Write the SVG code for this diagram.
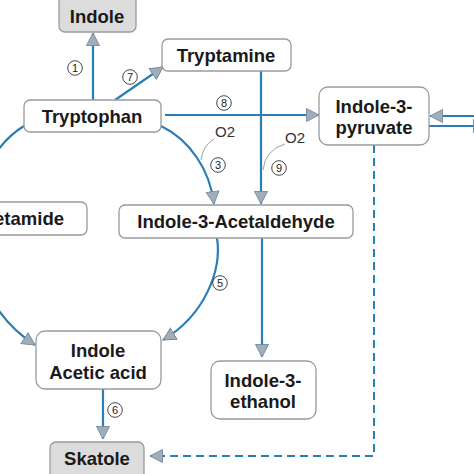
<svg xmlns="http://www.w3.org/2000/svg" width="474" height="474" viewBox="0 0 474 474">
<style>
.box{fill:#fff;stroke:#9a9a9a;stroke-width:1.3}
.gbox{fill:#dcdcdc;stroke:#9a9a9a;stroke-width:1.3}
.t{font-family:"Liberation Sans",Arial,sans-serif;font-weight:bold;font-size:18.5px;fill:#1a1a1a;text-anchor:middle}
.n{font-family:"Liberation Sans",Arial,sans-serif;font-size:11px;fill:#222;text-anchor:middle}
.nc{fill:none;stroke:#333;stroke-width:0.9}
.o{font-family:"Liberation Sans",Arial,sans-serif;font-size:15px;fill:#333;text-anchor:middle}
.c{fill:none;stroke:#2a7db5;stroke-width:2.2}
.d{fill:none;stroke:#2a7db5;stroke-width:2;stroke-dasharray:8 5}
.thin{fill:none;stroke:#9aa3ab;stroke-width:1}
</style>
<defs>
<marker id="ah" markerUnits="userSpaceOnUse" markerWidth="16" markerHeight="16" refX="13" refY="7" orient="auto" viewBox="0 0 16 16">
<path d="M0.5,0.5 L13,7 L0.5,13.5 Z" fill="#a3adb8" stroke="#6f8ba2" stroke-width="0.9"/>
</marker>
<circle id="nc" class="nc" r="7.3"/>
</defs>
<g id="connectors">
<line class="c" x1="93" y1="100" x2="93" y2="33" marker-end="url(#ah)"/>
<line class="c" x1="115" y1="100" x2="163" y2="67" marker-end="url(#ah)"/>
<line class="c" x1="165" y1="115" x2="319" y2="115" marker-end="url(#ah)"/>
<line class="c" x1="261" y1="71" x2="261" y2="204" marker-end="url(#ah)"/>
<path class="c" d="M161,126 C190,140 210,170 214,204" marker-end="url(#ah)"/>
<path class="c" d="M217,238 C222,270 205,315 163,340" marker-end="url(#ah)"/>
<path class="c" d="M24,126 C-40,165 -50,290 35,345" marker-end="url(#ah)"/>
<line class="c" x1="262" y1="238" x2="262" y2="357" marker-end="url(#ah)"/>
<line class="c" x1="103" y1="389" x2="103" y2="439" marker-end="url(#ah)"/>
<line class="c" x1="476" y1="116" x2="430" y2="116" marker-end="url(#ah)"/>
<line class="c" x1="429" y1="126" x2="486" y2="126" marker-end="url(#ah)"/>
<polyline class="d" points="374,145 374,456 150,456"/>
<line class="c" x1="160" y1="456" x2="150" y2="456" stroke-width="0" marker-end="url(#ah)"/>
<path class="thin" d="M214,139 Q203,145 201,160"/>
<path class="thin" d="M285,144 Q265,150 263,170"/>
</g>
<g id="labels">
<use href="#nc" x="75" y="68"/><text class="n" x="75" y="72">1</text>
<use href="#nc" x="130" y="77"/><text class="n" x="130" y="81">7</text>
<use href="#nc" x="224" y="103"/><text class="n" x="224" y="107">8</text>
<use href="#nc" x="218" y="165"/><text class="n" x="218" y="169">3</text>
<use href="#nc" x="279" y="168"/><text class="n" x="279" y="172">9</text>
<use href="#nc" x="220" y="283"/><text class="n" x="220" y="287">5</text>
<use href="#nc" x="115" y="410"/><text class="n" x="115" y="414">6</text>
<text class="o" x="225" y="137">O2</text>
<text class="o" x="295" y="143">O2</text>
</g>
<g id="indole"><rect class="gbox" x="59" y="-6" width="77" height="38" rx="6"/><text class="t" x="97" y="23">Indole</text></g>
<g id="tryptophan"><rect class="box" x="24" y="100" width="137" height="32" rx="6"/><text class="t" x="92" y="123">Tryptophan</text></g>
<g id="tryptamine"><rect class="box" x="162" y="39" width="129" height="32" rx="6"/><text class="t" x="226" y="62">Tryptamine</text></g>
<g id="pyruvate"><rect class="box" x="319" y="87" width="110" height="58" rx="9"/><text class="t" x="374" y="113">Indole-3-</text><text class="t" x="374" y="134">pyruvate</text></g>
<g id="acetamide"><rect class="box" x="-60" y="202" width="147" height="33" rx="6"/><text class="t" x="64" y="225" style="text-anchor:end">Indole-3-Acetamide</text></g>
<g id="acetaldehyde"><rect class="box" x="119" y="205" width="234" height="33" rx="6"/><text class="t" x="236" y="228">Indole-3-Acetaldehyde</text></g>
<g id="iaa"><rect class="box" x="36" y="331" width="125" height="58" rx="9"/><text class="t" x="98" y="357">Indole</text><text class="t" x="98" y="379">Acetic acid</text></g>
<g id="ethanol"><rect class="box" x="211" y="361" width="105" height="58" rx="9"/><text class="t" x="263" y="387">Indole-3-</text><text class="t" x="263" y="408">ethanol</text></g>
<g id="skatole"><rect class="gbox" x="50" y="442" width="94" height="40" rx="6"/><text class="t" x="97" y="465">Skatole</text></g>
</svg>
